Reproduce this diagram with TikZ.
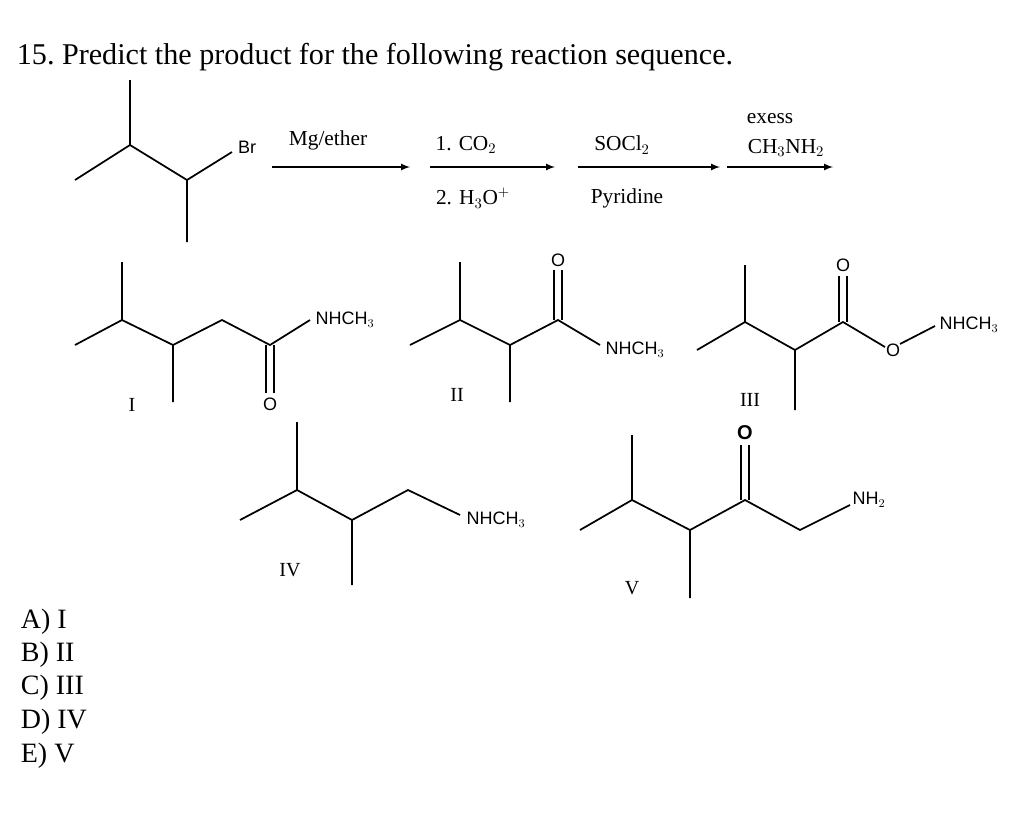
\documentclass[tikz,border=0pt]{standalone}
\usepackage{fontspec}
\setmainfont{Liberation Serif}
\newfontfamily\chemf{Liberation Sans}
\begin{document}
\begin{tikzpicture}[x=0.75pt,y=-0.75pt,line width=1.3pt,
 ttl/.style={font=\fontsize{22.6}{26}\selectfont,anchor=west,inner sep=0},
 rg/.style={font=\fontsize{16}{19}\selectfont,inner sep=0},
 ch/.style={font=\chemf\fontsize{13.5}{16}\selectfont,inner sep=1pt},
 lb/.style={font=\fontsize{15}{18}\selectfont,inner sep=0},
 ans/.style={font=\fontsize{21}{24}\selectfont,anchor=west,inner sep=0},
 rx/.style={-latex,line width=1.3pt}]
\useasboundingbox (0,0) rectangle (1024,826);
\node[ttl] (t) at (16,57) {15.\ Predict the product for the following reaction sequence.};
% reactant
\draw (130,80)--(130,145) (75,180)--(130,145)--(187,180)--(187,242) (187,180)--(232,152);
\node[ch] (br) at (247,147) {Br};
\coordinate (a1) at (272,167); \coordinate (a2) at (410,167);
\coordinate (b1) at (430,167); \coordinate (b2) at (555,167);
\coordinate (c1) at (578,167); \coordinate (c2) at (720,167);
\coordinate (d1) at (727,167); \coordinate (d2) at (833,167);
\draw[rx] (a1)--(a2); \draw[rx] (b1)--(b2); \draw[rx] (c1)--(c2); \draw[rx] (d1)--(d2);
\node[rg] (r1) at (328,140) {Mg/ether};
\node[rg] (r2) at (466,145) {1. CO$_2$};
\node[rg] (r3) at (473,198) {2. H$_3$O$^+$};
\node[rg] (r4) at (622,145) {SOCl$_2$};
\node[rg] (r5) at (627,198) {Pyridine};
\node[rg] (r6) at (770,119) {exess};
\node[rg] (r7) at (786,148) {CH$_3$NH$_2$};
% I
\draw (122,262)--(122,320) (75,345)--(122,320)--(173,345)--(173,402) (173,345)--(222,320)--(270,345)--(310,320);
\draw (266,345)--(266,393) (274,345)--(274,393);
\node[ch] (o1) at (270,404) {O};
\node[ch] (n1) at (345,320) {NHCH$_3$};
\node[lb] (l1) at (132,405) {I};
% II
\draw (460,262)--(460,320) (410,345)--(460,320)--(510,345)--(510,402) (510,345)--(558,320)--(600,345);
\draw (554,320)--(554,270) (562,320)--(562,270);
\node[ch] (o2) at (558,260) {O};
\node[ch] (n2) at (635,350) {NHCH$_3$};
\node[lb] (l2) at (457,395) {II};
% III
\draw (745,265)--(745,322) (697,350)--(745,322)--(795,350)--(795,410) (795,350)--(843,322)--(885,347);
\draw (839,322)--(839,276) (847,322)--(847,276);
\node[ch] (o3t) at (843,265) {O};
\node[ch] (o3) at (893,350) {O};
\draw (900,344)--(935,326);
\node[ch] (n3) at (969,325) {NHCH$_3$};
\node[lb] (l3) at (750,400) {III};
% IV
\draw (297,422)--(297,490) (240,520)--(297,490)--(352,520)--(352,585) (352,520)--(408,490)--(460,515);
\node[ch] (n4) at (496,520) {NHCH$_3$};
\node[lb] (l4) at (290,570) {IV};
% V
\draw (632,435)--(632,500) (580,530)--(632,500)--(690,530)--(690,598) (690,530)--(745,500)--(800,530)--(850,505);
\draw (741,500)--(741,445) (749,500)--(749,445);
\node[ch,font=\chemf\fontsize{15}{17}\bfseries] (o5) at (745,433) {O};
\node[ch] (n5) at (869,500) {NH$_2$};
\node[lb] (l5) at (632,588) {V};
% answers
\node[ans] (A) at (20,622) {A)\ I};
\node[ans] (B) at (20,655) {B)\ II};
\node[ans] (C) at (20,688) {C)\ III};
\node[ans] (D) at (20,722) {D)\ IV};
\node[ans] (E) at (20,756) {E)\ V};
\end{tikzpicture}
\end{document}
